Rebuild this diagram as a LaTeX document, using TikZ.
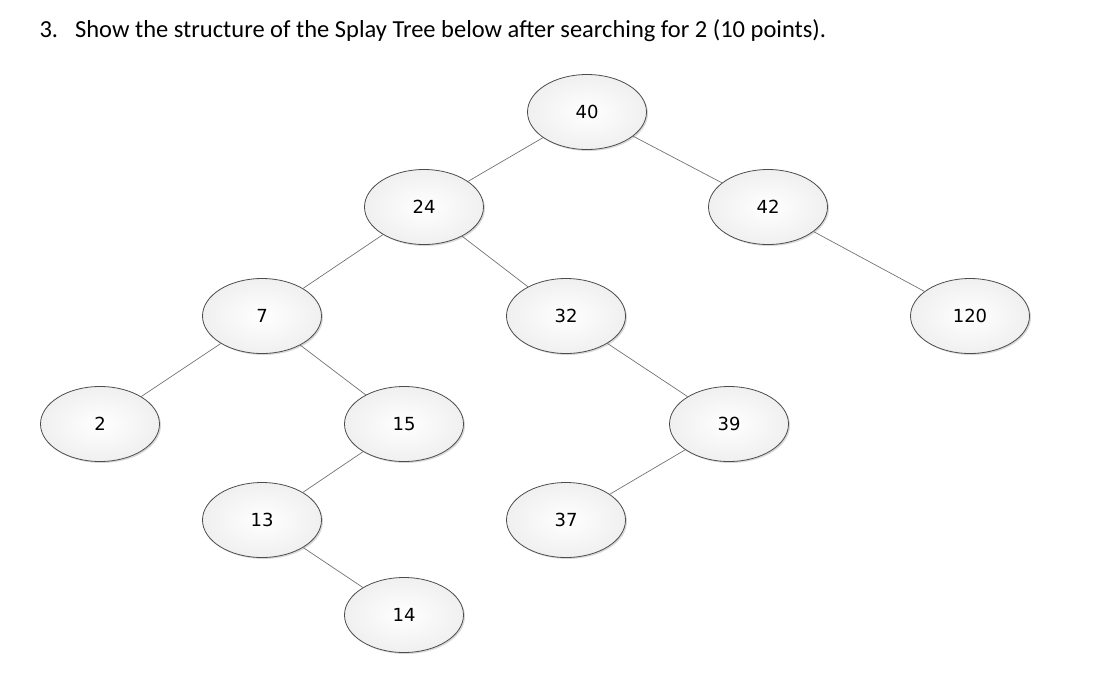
\documentclass[tikz,border=0pt]{standalone}
\usepackage{fontspec}
\setmainfont{DejaVu Sans}
\newfontfamily\titlefont{Carlito}
\usetikzlibrary{shapes.geometric,shadows}
\begin{document}
\begin{tikzpicture}[x=1pt,y=-1pt,
  tn/.style={ellipse,draw=black!70,line width=0.8pt,minimum width=119pt,minimum height=75pt,
    inner color=white,outer color=black!6,drop shadow={shadow xshift=1.5pt,shadow yshift=-1.5pt,opacity=0.3},
    font=\fontsize{18}{21}\selectfont},
  ed/.style={draw=black!55,line width=0.7pt}]
\useasboundingbox (0,0) rectangle (1115,683);
\node[anchor=west,font=\titlefont\fontsize{24.5}{28}\selectfont] (t) at (36,31) {3.\hspace{17pt}Show the structure of the Splay Tree below after searching for 2 (10 points).};
\node[tn] (n40) at (587,112) {40};
\node[tn] (n24) at (424,207) {24};
\node[tn] (n42) at (768,207) {42};
\node[tn] (n7) at (262,316) {7};
\node[tn] (n32) at (566,316) {32};
\node[tn] (n120) at (970,316) {120};
\node[tn] (n2) at (100,424) {2};
\node[tn] (n15) at (404,424) {15};
\node[tn] (n39) at (729,424) {39};
\node[tn] (n13) at (262,520) {13};
\node[tn] (n37) at (566,520) {37};
\node[tn] (n14) at (404,615) {14};
\draw[ed] (n40) -- (n24);
\draw[ed] (n40) -- (n42);
\draw[ed] (n24) -- (n7);
\draw[ed] (n24) -- (n32);
\draw[ed] (n42) -- (n120);
\draw[ed] (n7) -- (n2);
\draw[ed] (n7) -- (n15);
\draw[ed] (n32) -- (n39);
\draw[ed] (n15) -- (n13);
\draw[ed] (n39) -- (n37);
\draw[ed] (n13) -- (n14);
\end{tikzpicture}
\end{document}
